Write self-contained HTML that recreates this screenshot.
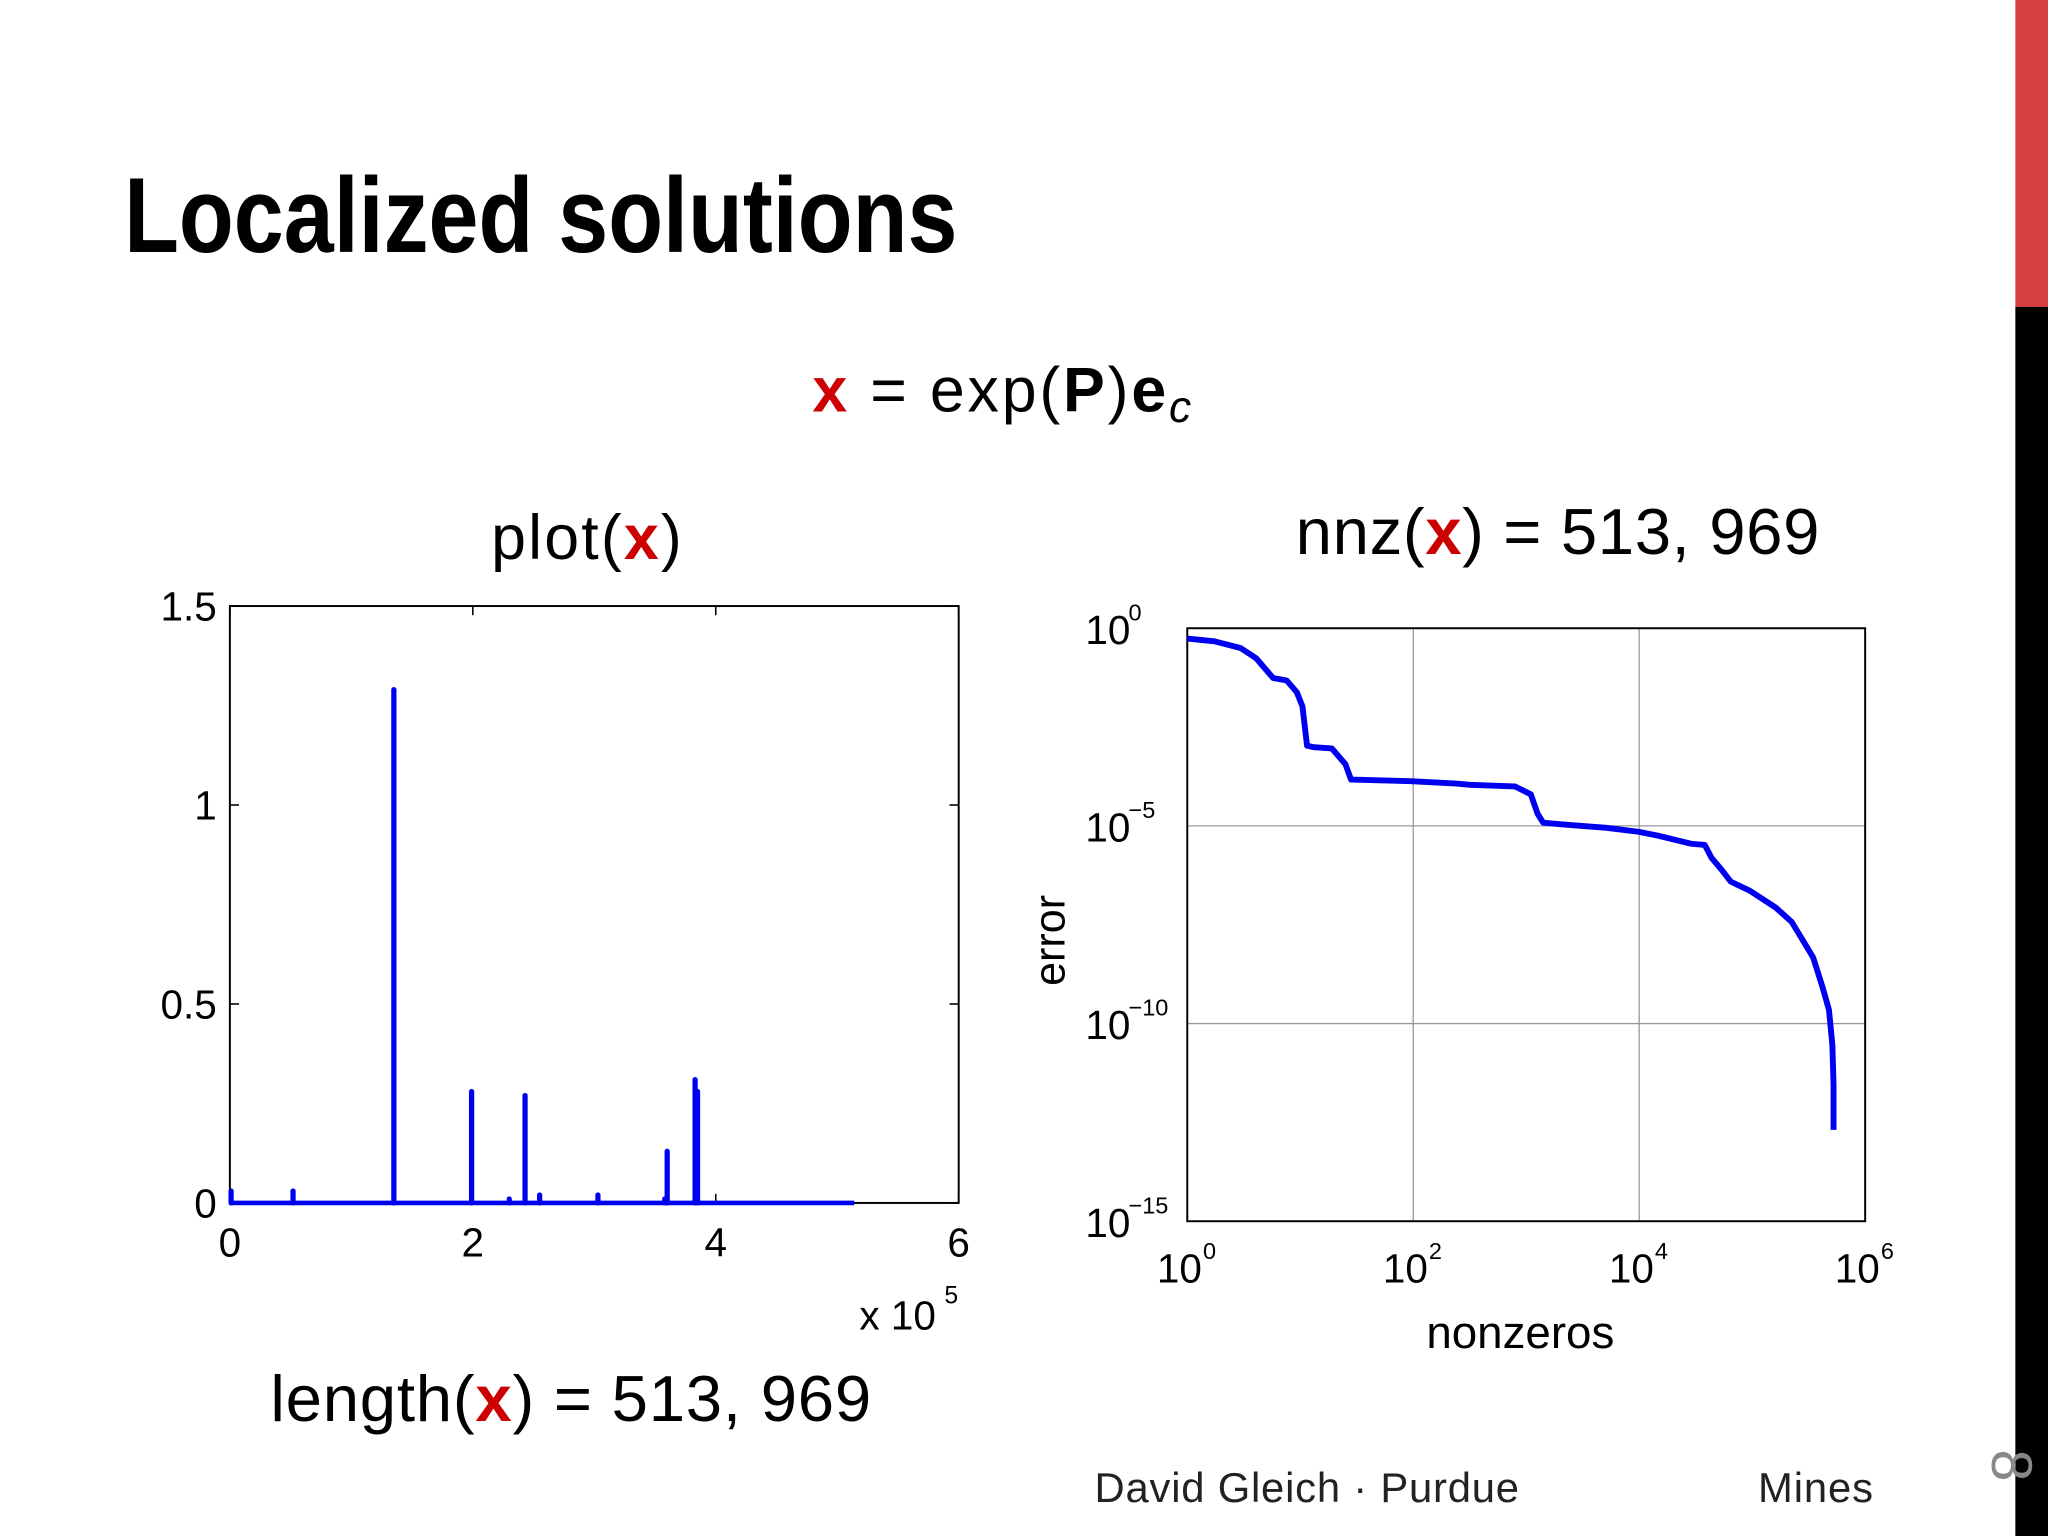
<!DOCTYPE html>
<html><head><meta charset="utf-8"><style>
html,body{margin:0;padding:0;background:#fff;}
svg{display:block;font-family:"Liberation Sans",sans-serif;}
</style></head><body>
<svg id="s" width="2048" height="1536" viewBox="0 0 1568 1176" xmlns="http://www.w3.org/2000/svg">
<rect width="1568" height="1176" fill="#fff"/>
<rect x="1543" y="0" width="25" height="235" fill="#d94140"/>
<rect x="1543" y="235" width="25" height="941" fill="#000"/>
<text x="95" y="193" font-family="'Liberation Sans Narrow','Liberation Sans',sans-serif" font-weight="bold" font-size="82" textLength="638" lengthAdjust="spacingAndGlyphs">Localized solutions</text>
<text x="622" y="315" font-size="48" textLength="290" lengthAdjust="spacing"><tspan fill="#c00" font-weight="bold">x</tspan> = exp(<tspan font-weight="bold">P</tspan>)<tspan font-weight="bold">e</tspan><tspan font-style="italic" font-size="34" dy="8">c</tspan></text>
<text x="376" y="428" font-size="48" textLength="146" lengthAdjust="spacing">plot(<tspan fill="#c00" font-weight="bold">x</tspan>)</text>
<text x="992" y="424" font-size="50" textLength="401" lengthAdjust="spacing">nnz(<tspan fill="#c00" font-weight="bold">x</tspan>) = 513, 969</text>
<text x="207" y="1088" font-size="50" textLength="460" lengthAdjust="spacing">length(<tspan fill="#c00" font-weight="bold">x</tspan>) = 513, 969</text>
<text x="838" y="1150" font-size="32" fill="#222" textLength="325" lengthAdjust="spacing">David Gleich · Purdue</text>
<text x="1346" y="1150" font-size="32" fill="#222" textLength="88" lengthAdjust="spacing">Mines</text>
<text x="1525" y="1122" font-size="44" fill="#888" text-anchor="middle" transform="rotate(90 1525 1122)">8</text>
<g id="left"></g>
<g id="right"></g>
</svg>
<script>
// Left chart data (x in units of 1e5)
const spikeX = [0.01, 0.52, 1.35, 1.99, 2.30, 2.43, 2.55, 3.03, 3.58, 3.60, 3.83, 3.85];
const spikeY = [0.03, 0.03, 1.29, 0.28, 0.01, 0.27, 0.02, 0.02, 0.01, 0.13, 0.31, 0.28];
const baseEnd = 5.14;
const leftXTicks = [0, 2, 4, 6];
const leftYTicks = [0, 0.5, 1, 1.5];
const leftYLabels = ["0", "0.5", "1", "1.5"];
// Right chart data (log10 values)
const logNnz = [0,0.24,0.47,0.61,0.76,0.88,0.97,1.02,1.06,1.12,1.28,1.40,1.45,1.98,2.38,2.50,2.90,3.04,3.10,3.15,3.31,3.71,4.0,4.17,4.46,4.58,4.64,4.73,4.81,4.98,5.21,5.35,5.45,5.54,5.62,5.68,5.71,5.72,5.72];
const logErr = [-0.26,-0.33,-0.5,-0.76,-1.26,-1.32,-1.62,-1.98,-2.97,-3.01,-3.04,-3.44,-3.83,-3.87,-3.93,-3.96,-4.0,-4.2,-4.69,-4.92,-4.96,-5.05,-5.15,-5.25,-5.45,-5.48,-5.81,-6.11,-6.41,-6.64,-7.07,-7.43,-7.9,-8.33,-9.05,-9.65,-10.54,-11.53,-12.69];
const rightXTicks = [0, 2, 4, 6];
const rightYTicks = [0, -5, -10, -15];

const NS = "http://www.w3.org/2000/svg";
function mk(parent, tag, attrs, txt) {
  const e = document.createElementNS(NS, tag);
  for (const k in attrs) e.setAttribute(k, attrs[k]);
  if (txt !== undefined) e.textContent = txt;
  parent.appendChild(e);
  return e;
}
// ---- Left chart
const L = document.getElementById('left');
const lx = v => 176 + (v / 6) * (734 - 176);
const ly = v => 921 - (v / 1.5) * (921 - 464);
let e = mk(L, 'rect', {x:176, y:464, width:558, height:457, fill:'none', stroke:'#000', 'stroke-width':1.5});


leftXTicks.forEach(t => {
  mk(L, 'line', {x1:lx(t), x2:lx(t), y1:921, y2:914, stroke:'#000', 'stroke-width':1.2});
  mk(L, 'line', {x1:lx(t), x2:lx(t), y1:464, y2:471, stroke:'#000', 'stroke-width':1.2});
  e = mk(L, 'text', {x:lx(t), y:962, 'font-size':31, 'text-anchor':'middle'}, String(t));
  
  
});
leftYTicks.forEach((t, i) => {
  mk(L, 'line', {x1:176, x2:183, y1:ly(t), y2:ly(t), stroke:'#000', 'stroke-width':1.2});
  mk(L, 'line', {x1:734, x2:727, y1:ly(t), y2:ly(t), stroke:'#000', 'stroke-width':1.2});
  e = mk(L, 'text', {x:166, y:ly(t) + 11, 'font-size':31, 'text-anchor':'end'}, leftYLabels[i]);
  
  
});
e = mk(L, 'text', {x:658, y:1018, 'font-size':31}, 'x 10');


mk(L, 'text', {x:723, y:998, 'font-size':19}, '5');
e = mk(L, 'line', {x1:lx(0), x2:lx(baseEnd), y1:ly(0), y2:ly(0), stroke:'#0000f0', 'stroke-width':3.5});


spikeX.forEach((v, i) => {
  e = mk(L, 'line', {x1:lx(v), x2:lx(v), y1:ly(0), y2:ly(spikeY[i]), stroke:'#0000f0', 'stroke-width':4, 'stroke-linecap':'round'});
  
  
});
// ---- Right chart
const R = document.getElementById('right');
const rx = v => 909 + (v / 6) * (1428 - 909);
const ry = v => 481 + (-v / 15) * (935 - 481);
rightXTicks.forEach(t => {
  if (t > 0 && t < 6) {
    e = mk(R, 'line', {x1:rx(t), x2:rx(t), y1:481, y2:935, stroke:'#999', 'stroke-width':1});
    
    
  }
  e = mk(R, 'text', {x:rx(t) - 6, y:982, 'font-size':31, 'text-anchor':'middle'}, '10');
  
  
  mk(R, 'text', {x:rx(t) + 12, y:964, 'font-size':18}, String(t));
});
rightYTicks.forEach(t => {
  if (t < 0 && t > -15) {
    e = mk(R, 'line', {x1:909, x2:1428, y1:ry(t), y2:ry(t), stroke:'#999', 'stroke-width':1});
    
    
  }
  e = mk(R, 'text', {x:831, y:ry(t) + 12, 'font-size':31}, '10');
  
  
  mk(R, 'text', {x:864, y:ry(t) - 6, 'font-size':18}, t === 0 ? '0' : '\u2212' + (-t));
});
e = mk(R, 'rect', {x:909, y:481, width:519, height:454, fill:'none', stroke:'#000', 'stroke-width':1.5});


e = mk(R, 'text', {x:0, y:0, 'font-size':33, 'text-anchor':'middle', transform:'translate(815 720) rotate(-90)'}, 'error');


e = mk(R, 'text', {x:1164, y:1032, 'font-size':35, 'text-anchor':'middle'}, 'nonzeros');


const pts = logNnz.map((v, i) => rx(v).toFixed(1) + ',' + ry(logErr[i]).toFixed(1)).join(' ');
e = mk(R, 'polyline', {points:pts, fill:'none', stroke:'#0000f0', 'stroke-width':4.5, 'stroke-linejoin':'round'});


</script>
</body></html>
